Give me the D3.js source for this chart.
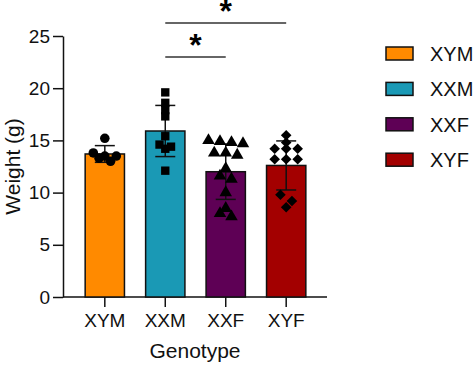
<!DOCTYPE html>
<html>
<head>
<meta charset="utf-8">
<script src="https://cdn.jsdelivr.net/npm/d3@7"></script>
<style>
  body { margin: 0; background: #fff; }
  svg { font-family: "Liberation Sans", Arial, sans-serif; }
</style>
</head>
<body>
<svg width="474" height="366"></svg>
<script>
// data
const groups = ['XYM', 'XXM', 'XXF', 'XYF'];
const colors = ['#ff8a00', '#1a99b5', '#5e0055', '#a30000'];
const means = [13.7, 15.9, 12.0, 12.6];
const sds = [0.8, 2.45, 2.65, 2.35];
const xymPoints = [15.2, 13.8, 13.5, 13.5, 13.3, 13.0];
const xxmPoints = [19.6, 18.6, 17.9, 17.3, 15.4, 14.6, 14.4, 14.2, 12.1];
const xxfPoints = [15.0, 14.9, 14.8, 14.7, 13.8, 13.8, 13.6, 12.3, 11.6, 11.3, 10.0, 8.5, 8.0, 7.7];
const xyfPoints = [15.5, 14.8, 14.2, 14.2, 14.2, 13.2, 13.2, 13.2, 9.8, 9.2, 8.6];
const yTicks = [0, 5, 10, 15, 20, 25];
const comparisons = [
    { from: 'XXM', to: 'XXF', label: '*' },
    { from: 'XXM', to: 'XYF', label: '*' }
];

const points = [xymPoints, xxmPoints, xxfPoints, xyfPoints];
const shapes = [d3.symbolCircle, d3.symbolSquare, d3.symbolTriangle, d3.symbolSquare];
const sizes = [72, 70, 68, 56];

const svg = d3.select('svg');

const x = d3.scaleBand().domain(groups).range([64, 327]).paddingInner(0.35).paddingOuter(0.35);
const y = d3.scaleLinear().domain([0, 25]).range([297, 36]);

// axes
const yAxis = svg.append('g')
    .attr('transform', 'translate(63,0)')
    .call(d3.axisLeft(y).tickValues(yTicks).tickSize(10).tickSizeOuter(0).tickPadding(3));
const xAxis = svg.append('g')
    .attr('transform', 'translate(0,297)')
    .call(d3.axisBottom(x).tickSize(10).tickSizeOuter(0).tickPadding(7));
xAxis.select('.domain').attr('d', 'M63,0H327');
[yAxis, xAxis].forEach(ax => {
    ax.selectAll('path, line').attr('stroke', '#111').attr('stroke-width', 1.5);
    ax.selectAll('text').attr('fill', '#111').style('font-size', '19px');
});

// bars
svg.append('g')
    .selectAll('rect')
    .data(groups)
    .join('rect')
    .attr('x', d => x(d))
    .attr('width', x.bandwidth())
    .attr('y', (d, i) => y(means[i]))
    .attr('height', (d, i) => y(0) - y(means[i]))
    .attr('fill', (d, i) => colors[i])
    .attr('stroke', '#111')
    .attr('stroke-width', 1.5);

// error bars (mean ± SD)
const errG = svg.append('g').attr('stroke', '#111').attr('stroke-width', 1.5);
groups.forEach((g, i) => {
    const cx = x(g) + x.bandwidth() / 2;
    const hi = y(means[i] + sds[i]), lo = y(means[i] - sds[i]);
    errG.append('line').attr('x1', cx).attr('x2', cx).attr('y1', hi).attr('y2', lo);
    errG.append('line').attr('x1', cx - 10).attr('x2', cx + 10).attr('y1', hi).attr('y2', hi);
    errG.append('line').attr('x1', cx - 10).attr('x2', cx + 10).attr('y1', lo).attr('y2', lo);
});

// scatter points, spread in rows like a column scatter
const rowH = 9, spread = 11.5;
groups.forEach((g, i) => {
    const cx = x(g) + x.bandwidth() / 2;
    const rows = d3.group(points[i], v => Math.round(y(v) / rowH));
    const placed = [];
    rows.forEach(vals => {
        vals.forEach((v, j) => placed.push({ v, dx: (j - (vals.length - 1) / 2) * spread }));
    });
    const sym = d3.symbol().type(shapes[i]).size(sizes[i]);
    svg.append('g')
        .selectAll('path')
        .data(placed)
        .join('path')
        .attr('d', sym)
        .attr('fill', '#000')
        .attr('transform', d => `translate(${cx + d.dx},${y(d.v)})` + (i === 3 ? ' rotate(45)' : ''));
});

// significance brackets
comparisons.forEach((c, k) => {
    const x1 = x(c.from) + x.bandwidth() / 2;
    const x2 = x(c.to) + x.bandwidth() / 2;
    const ly = y(23) - k * 34;
    svg.append('line')
        .attr('x1', x1).attr('x2', x2).attr('y1', ly).attr('y2', ly)
        .attr('stroke', '#333').attr('stroke-width', 1.5);
    svg.append('text')
        .attr('x', (x1 + x2) / 2)
        .attr('y', ly - 1)
        .attr('text-anchor', 'middle')
        .style('font-size', '32px')
        .style('font-weight', 'bold')
        .text(c.label);
});

// axis titles
svg.append('text')
    .attr('transform', 'rotate(-90)')
    .attr('x', -(y(0) + y(25)) / 2)
    .attr('y', 20)
    .attr('text-anchor', 'middle')
    .style('font-size', '21px')
    .attr('fill', '#111')
    .text('Weight (g)');
svg.append('text')
    .attr('x', 195)
    .attr('y', 358)
    .attr('text-anchor', 'middle')
    .style('font-size', '21px')
    .attr('fill', '#111')
    .text('Genotype');

// legend
const legend = svg.append('g')
    .selectAll('g')
    .data(groups)
    .join('g')
    .attr('transform', (d, i) => `translate(386, ${47 + i * 35.4})`);
legend.append('rect')
    .attr('width', 27)
    .attr('height', 13)
    .attr('fill', (d, i) => colors[i])
    .attr('stroke', '#111')
    .attr('stroke-width', 1.5);
legend.append('text')
    .attr('x', 44)
    .attr('y', 6.5)
    .attr('dy', '0.36em')
    .style('font-size', '20px')
    .attr('fill', '#111')
    .text(d => d);
</script>
</body>
</html>
